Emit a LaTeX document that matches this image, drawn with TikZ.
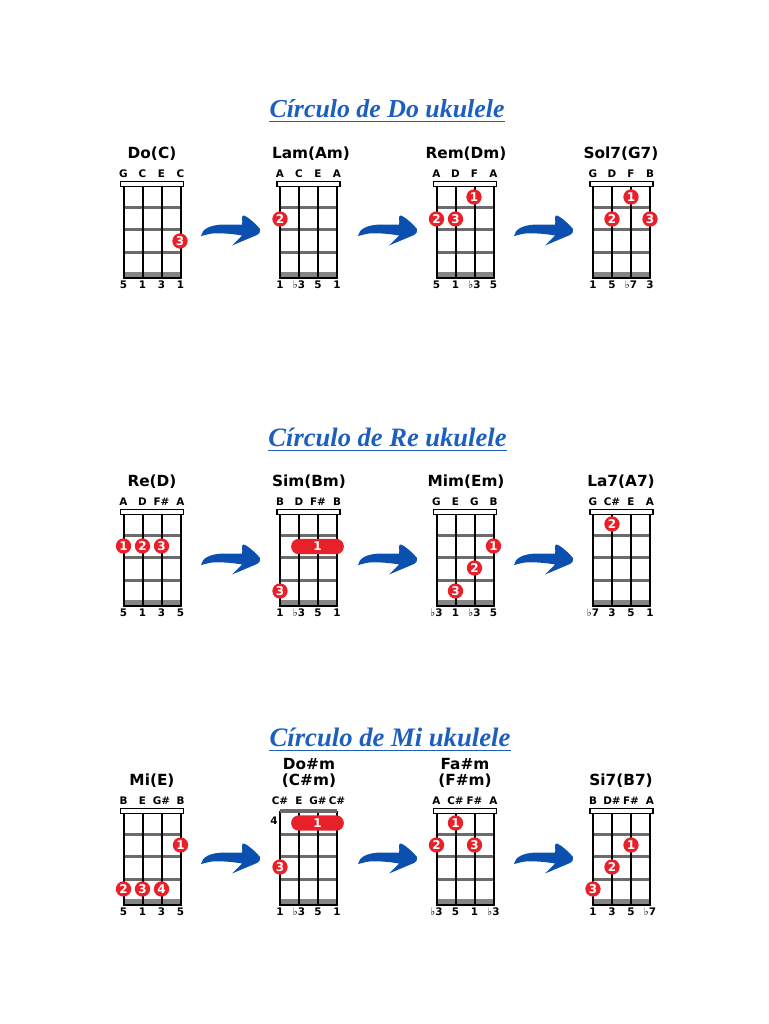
\documentclass[tikz,border=0pt]{standalone}
\usepackage{fontspec}
\setmainfont{DejaVu Sans}
\newfontfamily\titlefont{Liberation Serif}
\usetikzlibrary{positioning}

\definecolor{titleblue}{HTML}{1C5FBE}
\definecolor{arrowblue}{HTML}{0B50AE}
\definecolor{dotred}{HTML}{E8202A}

\tikzset{
  chordname/.style={font=\fontsize{11.5}{12}\selectfont\bfseries,inner sep=0pt,align=center},
  stringlabel/.style={font=\fontsize{7.8}{8}\selectfont\bfseries,inner sep=0pt},
  titletext/.style={font=\titlefont\fontsize{19.4}{24}\selectfont\bfseries\itshape,text=titleblue,
    inner sep=0pt,text height=15pt,text depth=3pt,minimum width=176pt},
  titleline/.style={draw=titleblue,line width=1pt},
  nutbar/.style={draw=black,fill=white,line width=1.1pt},
  fretbar/.style={fill=black!58},
  endbar/.style={fill=black!48},
  stringline/.style={fill=black},
  fingerdot/.style={circle,fill=dotred,text=white,minimum size=11.5pt,inner sep=0pt,
    font=\fontsize{9}{9}\selectfont\bfseries},
  barredot/.style={rounded corners=5.6pt,fill=dotred,text=white,minimum width=39.5pt,minimum height=11.5pt,inner sep=0pt,
    font=\fontsize{9}{9}\selectfont\bfseries},
  chordarrow/.pic={
    \fill[arrowblue] (0,0) .. controls (1,-7) and (9,-11) .. (22,-11.5) -- (41,-11.5)
      .. controls (42,-15) and (40,-19) .. (42,-20.5) .. controls (45,-21) and (55,-12) .. (59,-7)
      .. controls (60,-4) and (58,-2) .. (56,-1) -- (31,9.5) -- (41,-0.5)
      .. controls (30,-2.5) and (14,-3.5) .. (8,-2) -- cycle;
  }
}

% #1 nut style, #2 name, #3 x, #4 y, #5 string notes, #6 intervals
\newcommand{\chordbox}[6][nutbar]{
  \begin{scope}[shift={(#3,#4)}]
    \foreach \f in {23,45.5,68}
      \fill[fretbar] (0,\f-1.5) rectangle (57,\f+1.5);
    \fill[endbar] (0,88) rectangle (57,92.5);
    \foreach \s in {0,19,38,57}
      \fill[stringline] (\s-1,0) rectangle (\s+1,94);
    \fill[stringline] (-1,92.8) rectangle (58,94.6);
    \draw[#1] (-3,-2.5) rectangle (60,2.5);
    \foreach \t [count=\i from 0] in {#5}
      \node[stringlabel] (#2_s\i) at (\i*19,-10) {\t};
    \foreach \t [count=\i from 0] in {#6}
      \node[stringlabel] (#2_i\i) at (\i*19,101) {\t};
  \end{scope}
}

\begin{document}
\begin{tikzpicture}[x=.75pt,y=-.75pt]
  \useasboundingbox (0,0) rectangle (768,1024);

  \node[titletext,anchor=south] (title_do) at (387,121.5) {Círculo de Do ukulele};
  \node[titletext,anchor=south,minimum width=179pt,font=\titlefont\fontsize{19.9}{24}\selectfont\bfseries\itshape] (title_re) at (387.5,450.5) {Círculo de Re ukulele};
  \node[titletext,anchor=south,minimum width=180pt,font=\titlefont\fontsize{20}{24}\selectfont\bfseries\itshape] (title_mi) at (390,750.5) {Círculo de Mi ukulele};
  \foreach \t in {title_do,title_re,title_mi}
    \draw[titleline] (\t.south west) -- (\t.south east);

  \chordbox{do}{123.5}{184}{G,C,E,C}{5,1,3,1}
  \chordbox{lam}{280}{184}{A,C,E,A}{1,♭3,5,1}
  \chordbox{rem}{436.5}{184}{A,D,F,A}{5,1,♭3,5}
  \chordbox{sol}{593}{184}{G,D,F,B}{1,5,♭7,3}
  \chordbox{re}{123.5}{512}{A,D,F\#,A}{5,1,3,5}
  \chordbox{sim}{280}{512}{B,D,F\#,B}{1,♭3,5,1}
  \chordbox{mim}{436.5}{512}{G,E,G,B}{♭3,1,♭3,5}
  \chordbox{la}{593}{512}{G,C\#,E,A}{♭7,3,5,1}
  \chordbox{mi}{123.5}{811}{B,E,G\#,B}{5,1,3,5}
  \chordbox[draw=none]{dom}{280}{811}{C\#,E,G\#,C\#}{1,♭3,5,1}
  \chordbox{fam}{436.5}{811}{A,C\#,F\#,A}{♭3,5,1,♭3}
  \chordbox{si}{593}{811}{B,D\#,F\#,A}{1,3,5,♭7}
  \fill[fretbar] (280,809) rectangle (337,812.5);

  \node[chordname] (name_do) at (152,153.5) {Do(C)};
  \node[chordname] (name_lam) at (311,153.5) {Lam(Am)};
  \node[chordname] (name_rem) at (466,153.5) {Rem(Dm)};
  \node[chordname] (name_sol) at (621,153.5) {Sol7(G7)};
  \node[chordname] (name_re) at (152,481.5) {Re(D)};
  \node[chordname] (name_sim) at (309,481.5) {Sim(Bm)};
  \node[chordname] (name_mim) at (466,481.5) {Mim(Em)};
  \node[chordname] (name_la) at (621,481.5) {La7(A7)};
  \node[chordname] (name_mi) at (152,780.5) {Mi(E)};
  \node[chordname] (name_dom) at (309,773) {Do\#m\\(C\#m)};
  \node[chordname] (name_fam) at (465,773) {Fa\#m\\(F\#m)};
  \node[chordname] (name_si) at (621,780.5) {Si7(B7)};
  \node[stringlabel] (fret_four) at (274,820.5) {4};

  \foreach \x/\y/\t [count=\n] in {
    180/241/3, 280/219/2, 474/197/1, 436.5/219/2, 455.5/219/3, 631/197/1, 612/219/2, 650/219/3,
    123.5/546/1, 142.5/546/2, 161.5/546/3, 280/591/3, 493.5/546/1, 474.5/568/2, 455.5/591/3, 612/524/2,
    180.5/845/1, 123.5/889/2, 142.5/889/3, 161.5/889/4, 280/867/3, 455.5/823/1, 436.5/845/2, 474.5/845/3,
    631/845/1, 612/867/2, 593/889/3}
    \node[fingerdot] (dot_\n) at (\x,\y) {\t};
  \node[barredot] (barre_sim) at (317.5,546.5) {1};
  \node[barredot] (barre_dom) at (317.5,823) {1};

  \foreach \x in {201,358,514}
    \foreach \y in {236,565,864}
      \pic at (\x,\y) {chordarrow};
\end{tikzpicture}
\end{document}
